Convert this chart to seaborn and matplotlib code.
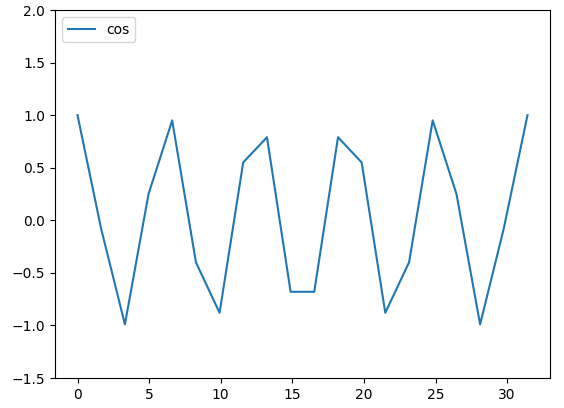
import matplotlib
matplotlib.use("Agg")
import matplotlib.pyplot as plt
import seaborn as sns
import pandas as pd

x_vals = [0.0, 1.65, 3.31, 4.96, 6.61, 8.27, 9.92, 11.57, 13.23, 14.88,
          16.53, 18.19, 19.84, 21.49, 23.15, 24.80, 26.46, 28.11, 29.76, 31.42]
cos_vals = [1.0, -0.08, -0.99, 0.25, 0.95, -0.40, -0.88, 0.55, 0.79, -0.68,
            -0.68, 0.79, 0.55, -0.88, -0.40, 0.95, 0.25, -0.99, -0.08, 1.0]
series_name = "cos"

df = pd.DataFrame({"x": x_vals, "y": cos_vals})

fig, ax = plt.subplots(figsize=(5.64, 4.08), dpi=100)
fig.subplots_adjust(left=55/564, right=550/564, top=1-10/408, bottom=1-378/408)
sns.lineplot(data=df, x="x", y="y", ax=ax, label=series_name, color="#1f77b4")
ax.set_ylim(-1.5, 2.0)
ax.set_xlabel("")
ax.set_ylabel("")
ax.legend(loc="upper left")
fig.savefig("out.png", dpi=100)
